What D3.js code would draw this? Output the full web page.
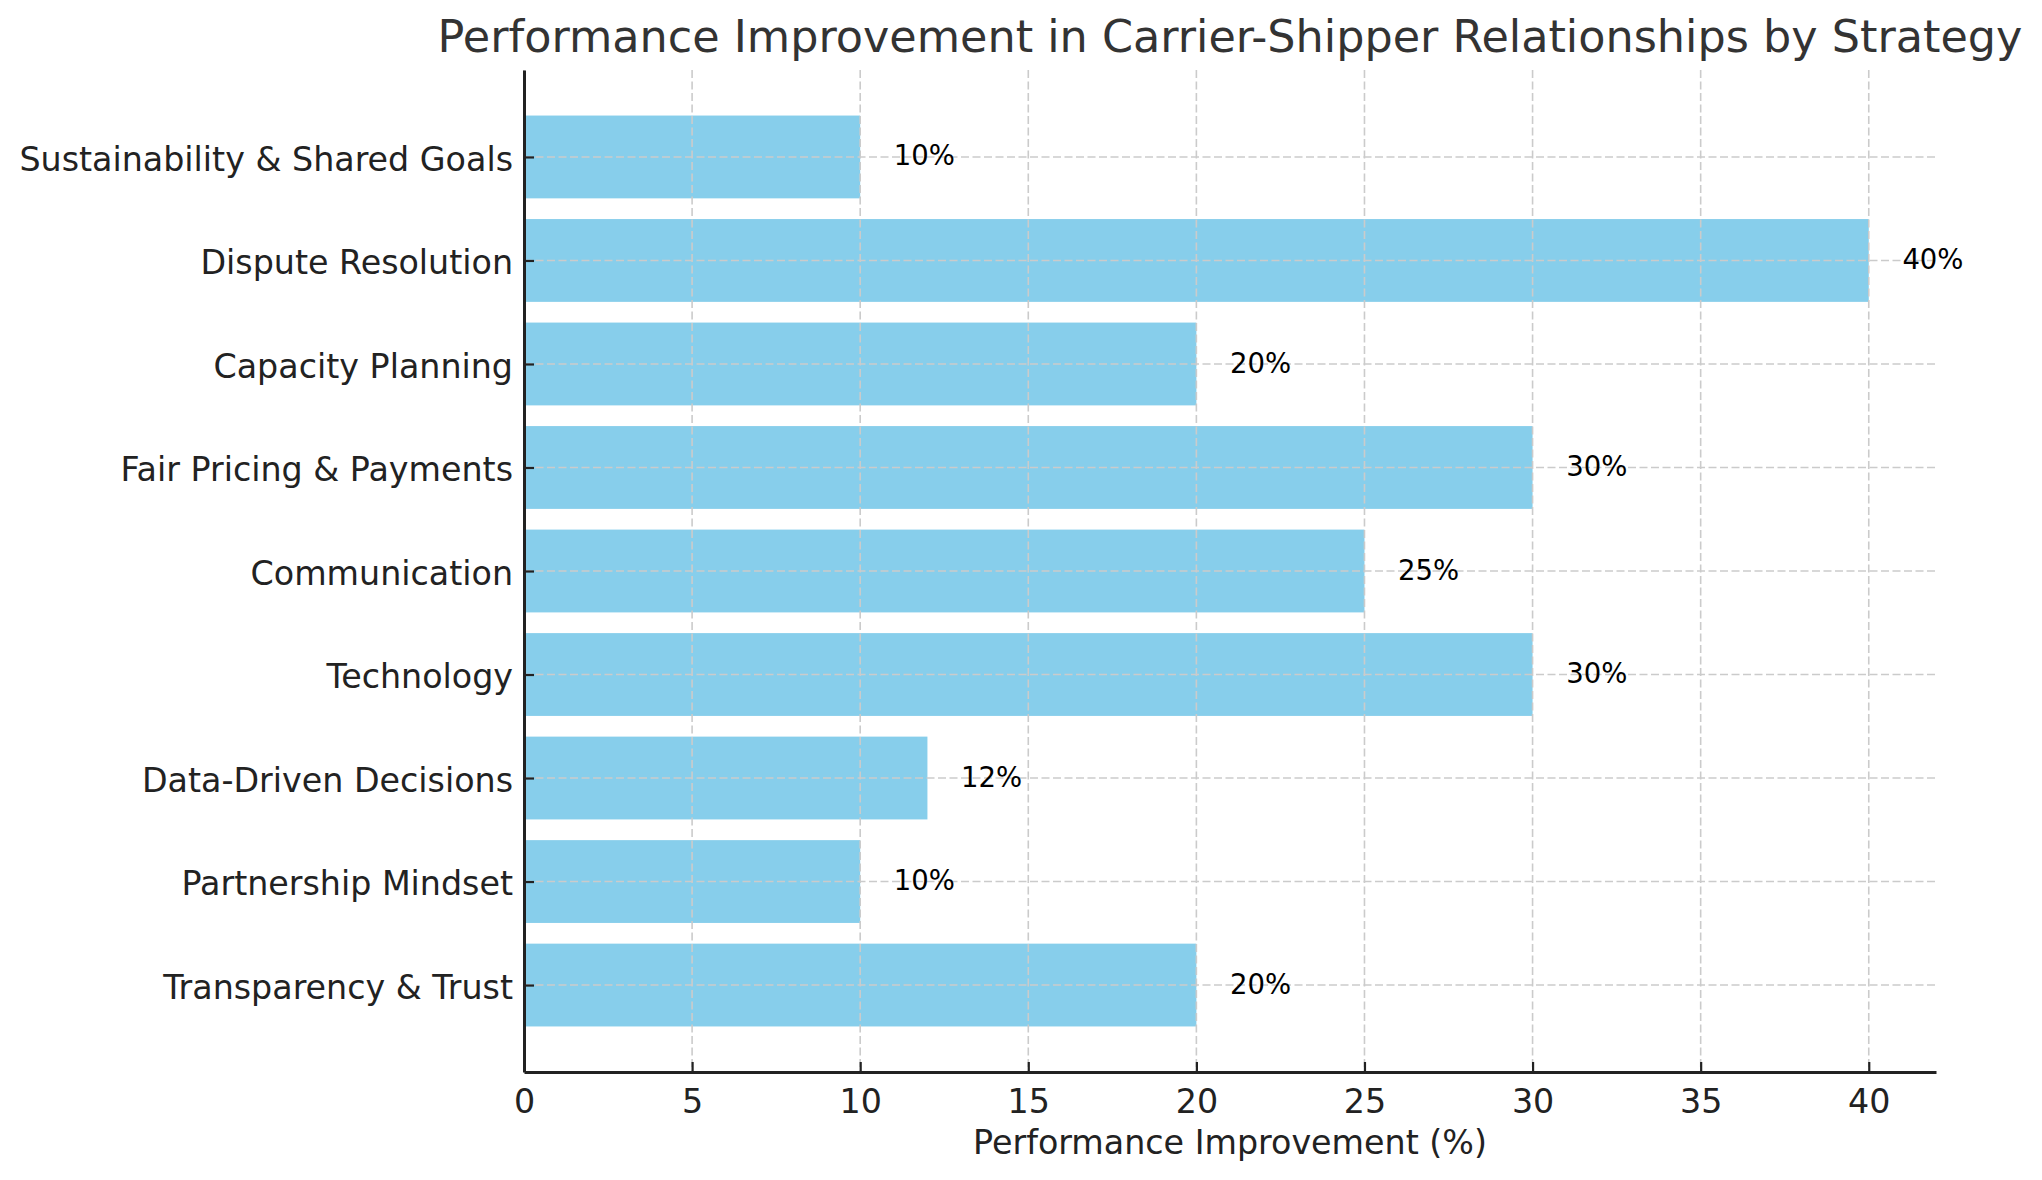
<!DOCTYPE html>
<html>
<head>
<meta charset="utf-8">
<script src="https://cdn.jsdelivr.net/npm/d3@7"></script>
<style>
  body { margin: 0; background: #fff; }
  text { font-family: "DejaVu Sans", sans-serif; }
</style>
</head>
<body>
<div id="main"></div>
<script>
const ctx = { w: 2042, h: 1180 };
const margin = { top: 70, right: 106, bottom: 108, left: 524 };

// strategies, bottom to top as drawn
const strategies = [
    'Transparency & Trust',
    'Partnership Mindset',
    'Data-Driven Decisions',
    'Technology',
    'Communication',
    'Fair Pricing & Payments',
    'Capacity Planning',
    'Dispute Resolution',
    'Sustainability & Shared Goals'
];
const improvement = [20, 10, 12, 30, 25, 30, 20, 40, 10];
const xTicks = [0, 5, 10, 15, 20, 25, 30, 35, 40];

const titleText = 'Performance Improvement in Carrier-Shipper Relationships by Strategy';
const xLabelText = 'Performance Improvement (%)';

const data = strategies.map((s, i) => ({ name: s, value: improvement[i], idx: i }));

function createViz() {
    const iw = ctx.w - margin.left - margin.right;
    const ih = ctx.h - margin.top - margin.bottom;

    const svg = d3.select("#main").append("svg")
        .attr("width", ctx.w)
        .attr("height", ctx.h);

    const g = svg.append("g")
        .attr("transform", `translate(${margin.left},${margin.top})`);

    // matplotlib style limits: bar extents with 5% margins
    const x = d3.scaleLinear()
        .domain([0, d3.max(improvement) * 1.05])
        .range([0, iw]);
    const y = d3.scaleLinear()
        .domain([-0.84, strategies.length - 1 + 0.84])
        .range([ih, 0]);
    const barH = y(0) - y(0.8);

    // bars
    g.append("g").selectAll("rect")
        .data(data)
        .enter().append("rect")
        .attr("x", x(0))
        .attr("y", d => y(d.idx) - barH / 2)
        .attr("width", d => x(d.value) - x(0))
        .attr("height", barH)
        .attr("fill", "#87ceeb");

    // grid (drawn over bars, like the original)
    const grid = g.append("g")
        .attr("stroke", "#cbcbcb")
        .attr("stroke-width", 1.6)
        .attr("stroke-dasharray", "8,3.5");
    grid.selectAll(".vg")
        .data(xTicks)
        .enter().append("line")
        .attr("x1", d => x(d)).attr("x2", d => x(d))
        .attr("y1", 0).attr("y2", ih);
    grid.selectAll(".hg")
        .data(data)
        .enter().append("line")
        .attr("x1", 0).attr("x2", iw)
        .attr("y1", d => y(d.idx)).attr("y2", d => y(d.idx));

    // value labels
    g.append("g").selectAll("text")
        .data(data)
        .enter().append("text")
        .attr("x", d => x(d.value + 1))
        .attr("y", d => y(d.idx))
        .attr("dy", "0.31em")
        .style("font-size", "27.5px")
        .attr("fill", "#000")
        .text(d => d.value + "%");

    // x axis
    const xAxis = g.append("g")
        .attr("transform", `translate(0,${ih})`)
        .call(d3.axisBottom(x).tickValues(xTicks).tickSizeInner(-10).tickSizeOuter(0).tickPadding(17));
    xAxis.select(".domain").attr("stroke", "#222").attr("stroke-width", 3);
    xAxis.selectAll(".tick line").attr("stroke", "#222").attr("stroke-width", 2.2);
    xAxis.selectAll(".tick text")
        .style("font-size", "33.3px")
        .attr("fill", "#222");

    // y axis
    const yAxis = g.append("g")
        .call(d3.axisLeft(y).tickValues(data.map(d => d.idx))
            .tickFormat(i => strategies[i])
            .tickSizeInner(-10).tickSizeOuter(0).tickPadding(11));
    yAxis.select(".domain").attr("stroke", "#222").attr("stroke-width", 3);
    yAxis.selectAll(".tick line").attr("stroke", "#222").attr("stroke-width", 2.2);
    yAxis.selectAll(".tick text")
        .attr("dy", "0.40em")
        .style("font-size", "33.3px")
        .attr("fill", "#222");

    // title
    svg.append("text")
        .attr("x", margin.left + iw / 2)
        .attr("y", 52)
        .attr("text-anchor", "middle")
        .style("font-size", "44.5px")
        .attr("fill", "#333")
        .text(titleText);

    // x label
    svg.append("text")
        .attr("x", margin.left + iw / 2)
        .attr("y", 1154)
        .attr("text-anchor", "middle")
        .style("font-size", "33.3px")
        .attr("fill", "#222")
        .text(xLabelText);
}

createViz();
</script>
</body>
</html>
